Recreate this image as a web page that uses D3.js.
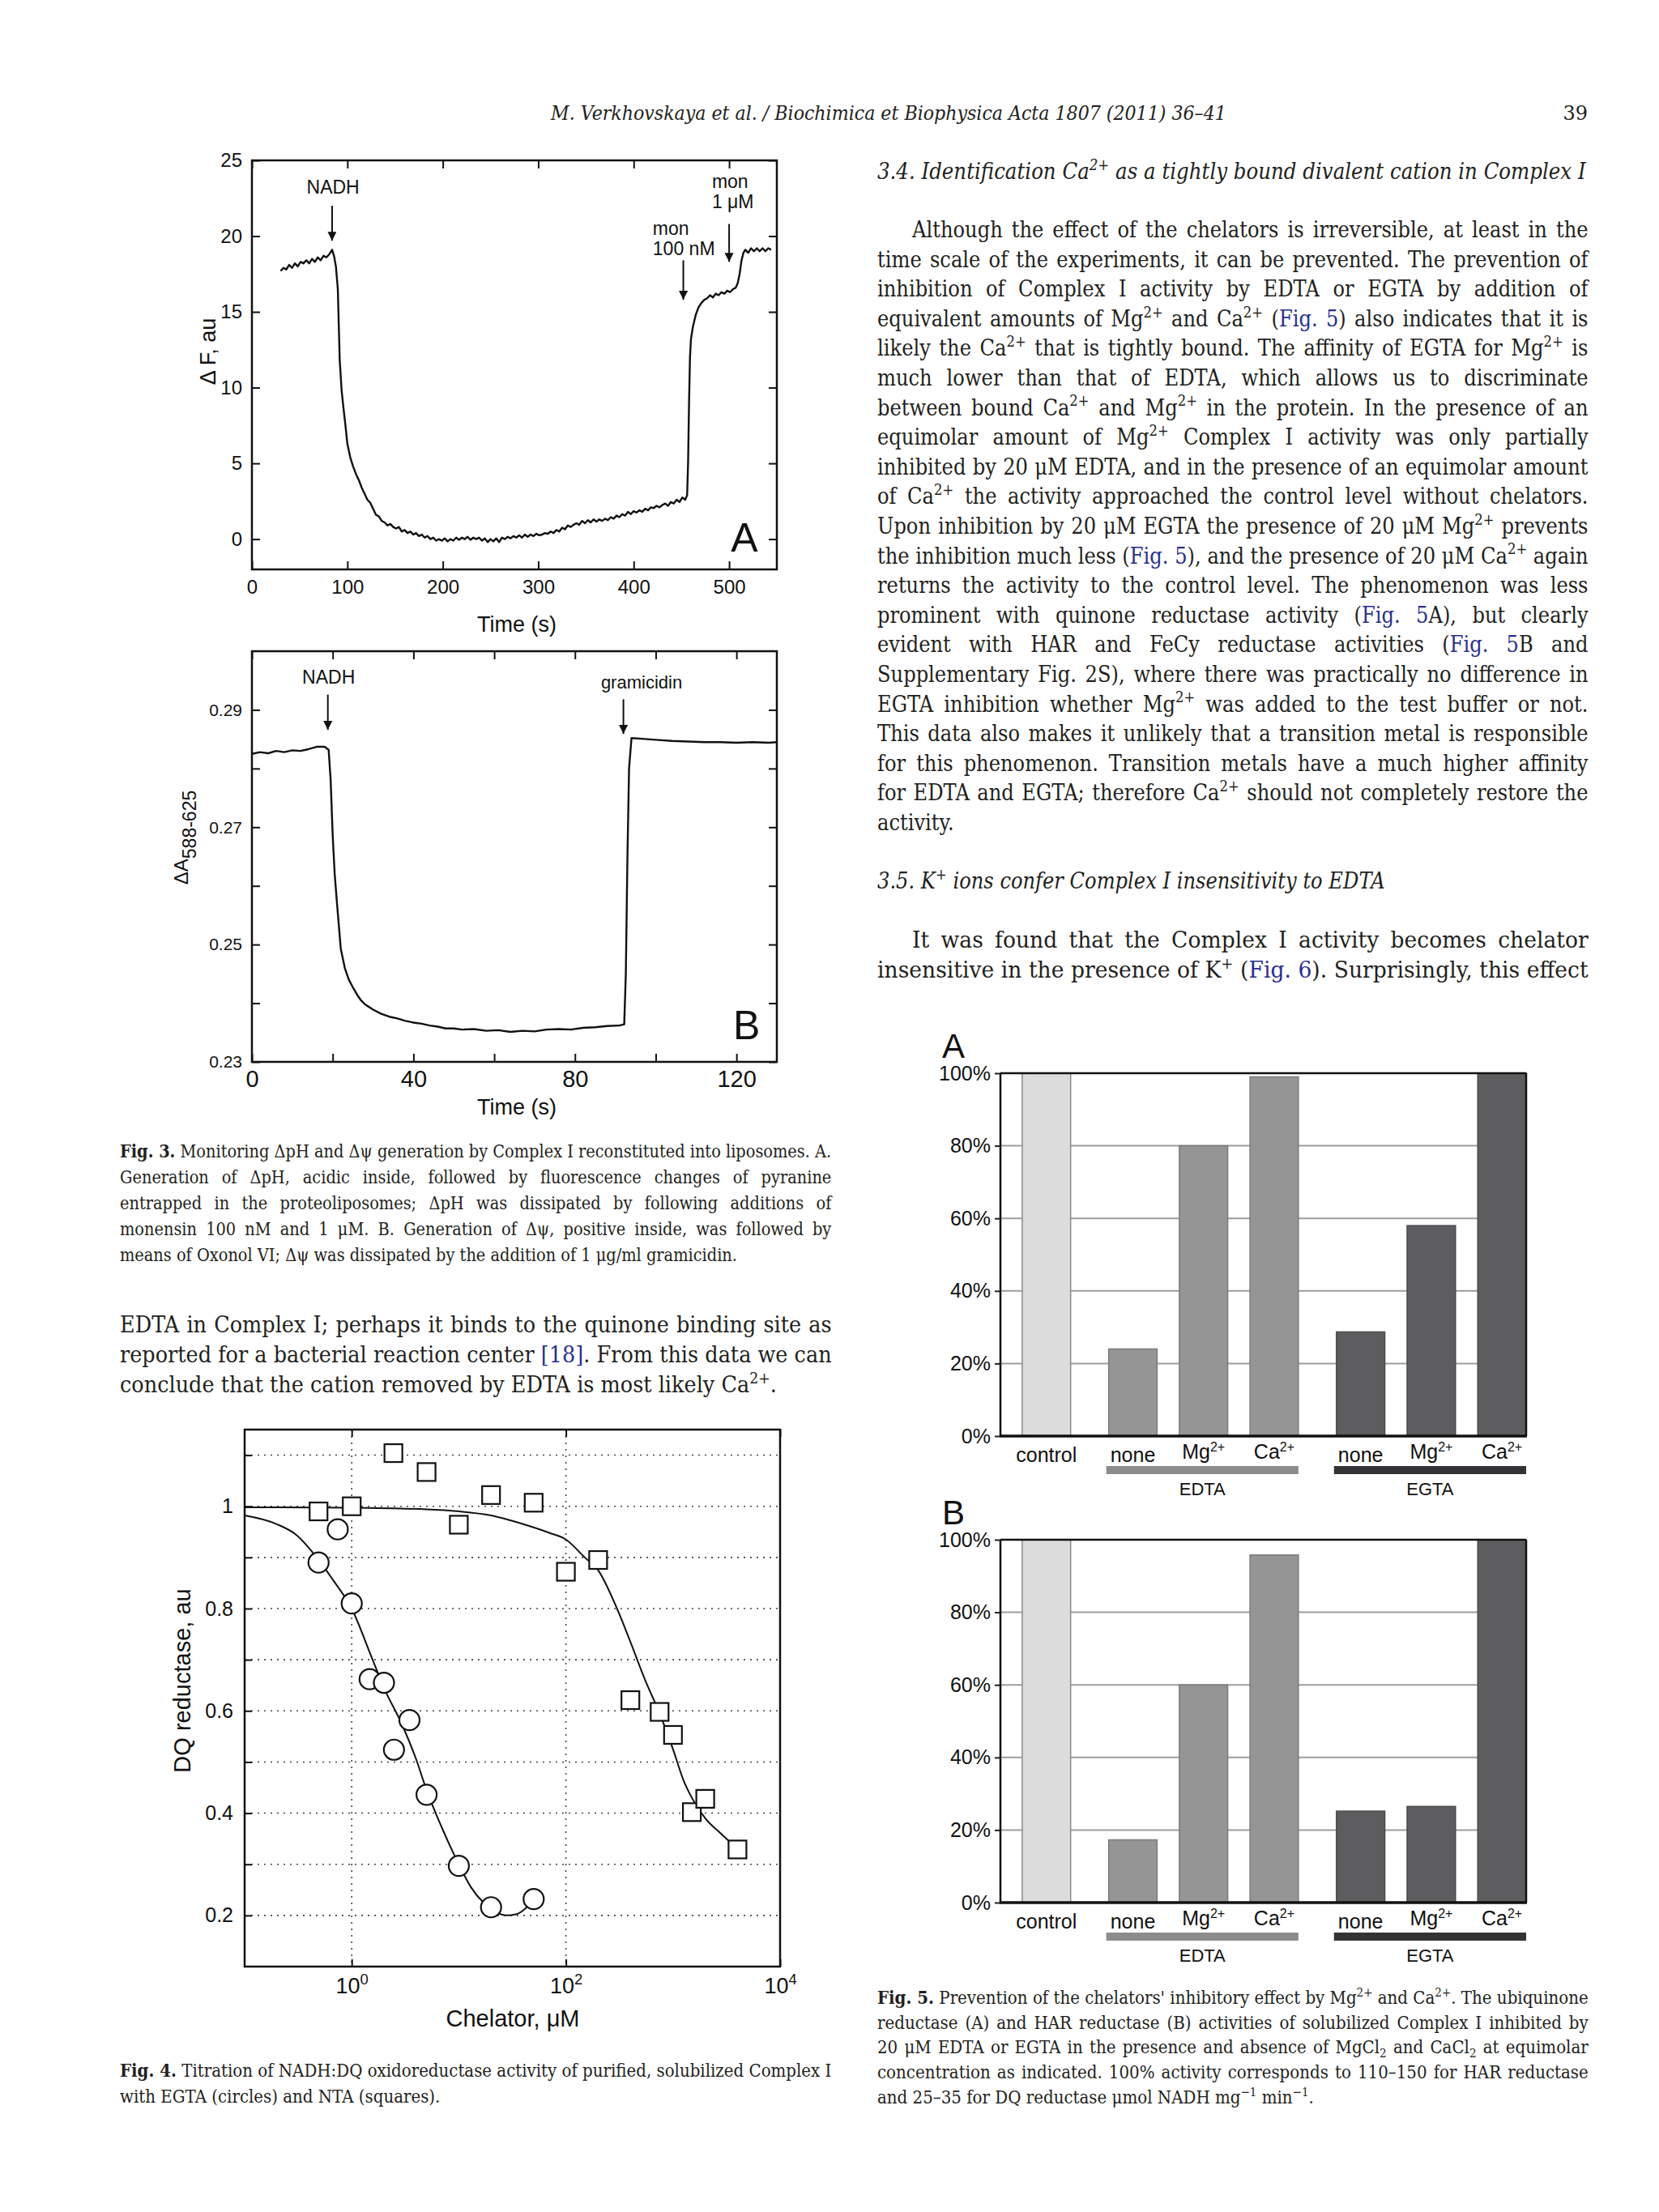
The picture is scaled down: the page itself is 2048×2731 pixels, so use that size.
<!DOCTYPE html>
<html>
<head>
<meta charset="utf-8">
<script src="https://cdn.jsdelivr.net/npm/d3@7"></script>
<style>
  body { margin: 0; background: #fff; }
  svg { display: block; }
</style>
</head>
<body>
<svg id="page" width="2048" height="2731"></svg>
<script>
// ---------- data ----------
// Fig 3A: pyranine fluorescence trace [time s, dF au]
const traceA = [
  [30,17.7],[33,17.9],[36,17.8],[39,18.1],[42,17.9],[45,18.2],[48,18.0],[51,18.3],[54,18.2],[57,18.4],
  [60,18.2],[63,18.5],[66,18.3],[69,18.6],[72,18.4],[75,18.7],[78,18.6],[81,18.8],[84,19.1],[86,18.7],
  [88,18.0],[90,16.5],[92,11.8],[94,9.8],[96,8.6],[98,7.5],[100,6.3],[103,5.4],[106,4.8],[109,4.3],
  [112,3.9],[115,3.4],[118,3.0],[121,2.6],[124,2.4],[127,2.0],[130,1.6],[133,1.5],[136,1.2],[139,1.1],
  [142,0.9],[145,1.0],[148,0.8],[151,0.7],[154,0.8],[157,0.5],[160,0.6],[163,0.4],[166,0.5],[169,0.3],
  [172,0.4],[175,0.2],[178,0.3],[181,0.1],[184,0.2],[187,0.0],[190,0.1],[193,-0.1],[196,0.0],[199,-0.1],
  [202,0.05],[205,-0.15],[208,0.0],[211,-0.1],[214,0.1],[217,-0.05],[220,0.1],[223,0.0],[226,0.15],[229,-0.05],
  [232,0.1],[235,0.0],[238,0.1],[241,-0.1],[244,0.05],[247,-0.2],[250,0.0],[253,-0.15],[256,0.05],[259,-0.2],
  [262,0.1],[265,0.0],[268,0.15],[271,0.05],[274,0.2],[277,0.1],[280,0.25],[283,0.1],[286,0.3],[289,0.15],
  [292,0.3],[295,0.2],[298,0.35],[301,0.25],[304,0.3],[307,0.4],[310,0.35],[313,0.5],[316,0.4],[319,0.6],
  [322,0.5],[325,0.75],[328,0.65],[331,0.9],[334,0.8],[337,0.95],[340,1.05],[343,0.95],[346,1.2],[349,1.05],
  [352,1.25],[355,1.1],[358,1.3],[361,1.15],[364,1.3],[367,1.2],[370,1.35],[373,1.25],[376,1.45],[379,1.35],
  [382,1.55],[385,1.45],[388,1.65],[391,1.55],[394,1.8],[397,1.65],[400,1.85],[403,1.75],[406,1.9],[409,1.8],
  [412,2.0],[415,1.9],[418,2.1],[421,2.05],[424,2.2],[427,2.1],[430,2.25],[433,2.35],[436,2.2],[439,2.45],
  [442,2.35],[445,2.6],[448,2.45],[451,2.75],[454,2.6],[456,2.9],[457,5.0],[458,9.0],[459,12.0],[460,13.2],
  [462,14.0],[465,14.8],[468,15.3],[471,15.6],[474,15.8],[477,15.9],[480,16.1],[483,15.95],[486,16.2],[489,16.1],
  [492,16.3],[495,16.2],[498,16.4],[501,16.3],[504,16.5],[507,16.6],[509,16.9],[511,17.5],[513,18.4],[515,18.9],
  [517,19.1],[520,18.9],[523,19.2],[526,19.0],[529,19.2],[532,19.0],[535,19.2],[538,19.0],[541,19.2],[544,19.1]
];
const timeTicksA = [0, 100, 200, 300, 400, 500];
const fluorTicks = [0, 5, 10, 15, 20, 25];

// Fig 3B: oxonol VI absorbance trace [time s, dA 588-625]
const traceB = [
  [0,0.2825],[2,0.2828],[4,0.2826],[6,0.2830],[8,0.2828],[10,0.2831],[12,0.2830],[14,0.2833],[16,0.2837],[18,0.2837],
  [19,0.2832],[19.5,0.2780],[20,0.2686],[20.5,0.2620],[21,0.2576],[22,0.2493],[23,0.2460],[24,0.2440],[25,0.2427],[26,0.2415],
  [27,0.2405],[28,0.2398],[30,0.2389],[32,0.2382],[34,0.2377],[36,0.2374],[38,0.2370],[40,0.2367],[42,0.2365],[44,0.2362],
  [46,0.2360],[48,0.2357],[50,0.2357],[52,0.2355],[55,0.2356],[58,0.2353],[61,0.2354],[64,0.2351],[67,0.2353],[70,0.2352],
  [73,0.2355],[76,0.2356],[79,0.2355],[82,0.2358],[85,0.2359],[88,0.2361],[91,0.2362],[92.2,0.2364],[92.6,0.2450],[93,0.2650],
  [93.4,0.2800],[94,0.2852],[96,0.2851],[100,0.2849],[104,0.2847],[108,0.2846],[112,0.2845],[116,0.2845],[120,0.2844],[124,0.2845],
  [128,0.2844],[130,0.2845]
];
const timeTicksB = [0, 20, 40, 60, 80, 100, 120];
const timeLabelsB = [0, 40, 80, 120];
const absTicks = [0.23, 0.24, 0.25, 0.26, 0.27, 0.28, 0.29];
const absLabels = [0.23, 0.25, 0.27, 0.29];

// Fig 4: DQ reductase titration [chelator uM, activity au]
const egtaPoints = [[0.49,0.89],[0.74,0.955],[1,0.81],[1.47,0.662],[2.0,0.655],[3.46,0.582],[2.48,0.524],[5,0.436],[10,0.297],[20,0.216],[50,0.232]];
const ntaPoints = [[0.49,0.99],[1,1.0],[2.45,1.104],[5,1.067],[10,0.964],[20,1.022],[50,1.007],[100,0.872],[200,0.895],[400,0.621],[750,0.598],[1000,0.553],[1500,0.402],[2000,0.428],[4000,0.329]];
const egtaFit = [[0.1,0.982],[0.2,0.965],[0.3,0.945],[0.5,0.893],[0.7,0.85],[1,0.80],[1.5,0.71],[2,0.645],[3,0.57],[4,0.505],[5,0.445],[7,0.37],[10,0.3],[13,0.255],[17,0.225],[22,0.207],[28,0.2],[34,0.202],[40,0.21],[50,0.232]];
const ntaFit = [[0.1,0.998],[1,0.997],[5,0.994],[10,0.99],[20,0.982],[40,0.965],[70,0.948],[100,0.935],[150,0.9],[200,0.875],[300,0.80],[400,0.735],[550,0.66],[750,0.595],[1000,0.525],[1250,0.465],[1500,0.43],[2000,0.39],[2800,0.36],[4000,0.33]];
const concTicks = [1, 100, 10000];
const dqTicks = [0.2, 0.3, 0.4, 0.5, 0.6, 0.7, 0.8, 0.9, 1, 1.1];
const dqLabels = [0.2, 0.4, 0.6, 0.8, 1];

// Fig 5: activity (% of control)
const conditions = ["control", "none", "Mg", "Ca", "none", "Mg", "Ca"];
const barGroup = ["control", "EDTA", "EDTA", "EDTA", "EGTA", "EGTA", "EGTA"];
const groupNames = ["control", "EDTA", "EGTA"];
const ubqReductase = [100, 24, 80, 99, 28.7, 58, 100];
const harReductase = [100, 17.3, 60, 95.8, 25.2, 26.5, 100];
const pctTicks = [0, 20, 40, 60, 80, 100];

// ---------- page text ----------
const header = "M. Verkhovskaya et al. / Biochimica et Biophysica Acta 1807 (2011) 36–41";
const pageNo = "39";
const sec34 = "3.4. Identification Ca^{2+} as a tightly bound divalent cation in Complex I";
const para34 = [
  "Although the effect of the chelators is irreversible, at least in the",
  "time scale of the experiments, it can be prevented. The prevention of",
  "inhibition of Complex I activity by EDTA or EGTA by addition of",
  "equivalent amounts of Mg^{2+} and Ca^{2+} (<<Fig. 5>>) also indicates that it is",
  "likely the Ca^{2+} that is tightly bound. The affinity of EGTA for Mg^{2+} is",
  "much lower than that of EDTA, which allows us to discriminate",
  "between bound Ca^{2+} and Mg^{2+} in the protein. In the presence of an",
  "equimolar amount of Mg^{2+} Complex I activity was only partially",
  "inhibited by 20 μM EDTA, and in the presence of an equimolar amount",
  "of Ca^{2+} the activity approached the control level without chelators.",
  "Upon inhibition by 20 μM EGTA the presence of 20 μM Mg^{2+} prevents",
  "the inhibition much less (<<Fig. 5>>), and the presence of 20 μM Ca^{2+} again",
  "returns the activity to the control level. The phenomenon was less",
  "prominent with quinone reductase activity (<<Fig. 5>>A), but clearly",
  "evident with HAR and FeCy reductase activities (<<Fig. 5>>B and",
  "Supplementary Fig. 2S), where there was practically no difference in",
  "EGTA inhibition whether Mg^{2+} was added to the test buffer or not.",
  "This data also makes it unlikely that a transition metal is responsible",
  "for this phenomenon. Transition metals have a much higher affinity",
  "for EDTA and EGTA; therefore Ca^{2+} should not completely restore the",
  "activity."
];
const sec35 = "3.5. K^{+} ions confer Complex I insensitivity to EDTA";
const para35 = [
  "It was found that the Complex I activity becomes chelator",
  "insensitive in the presence of K^{+} (<<Fig. 6>>). Surprisingly, this effect"
];
const leftPara = [
  "EDTA in Complex I; perhaps it binds to the quinone binding site as",
  "reported for a bacterial reaction center <<[18]>>. From this data we can",
  "conclude that the cation removed by EDTA is most likely Ca^{2+}."
];
const cap3 = [
  "**Fig. 3.** Monitoring ΔpH and Δψ generation by Complex I reconstituted into liposomes. A.",
  "Generation of ΔpH, acidic inside, followed by fluorescence changes of pyranine",
  "entrapped in the proteoliposomes; ΔpH was dissipated by following additions of",
  "monensin 100 nM and 1 μM. B. Generation of Δψ, positive inside, was followed by",
  "means of Oxonol VI; Δψ was dissipated by the addition of 1 μg/ml gramicidin."
];
const cap4 = [
  "**Fig. 4.** Titration of NADH:DQ oxidoreductase activity of purified, solubilized Complex I",
  "with EGTA (circles) and NTA (squares)."
];
const cap5 = [
  "**Fig. 5.** Prevention of the chelators' inhibitory effect by Mg^{2+} and Ca^{2+}. The ubiquinone",
  "reductase (A) and HAR reductase (B) activities of solubilized Complex I inhibited by",
  "20 μM EDTA or EGTA in the presence and absence of MgCl_{2} and CaCl_{2} at equimolar",
  "concentration as indicated. 100% activity corresponds to 110–150 for HAR reductase",
  "and 25–35 for DQ reductase μmol NADH mg^{−1} min^{−1}."
];

// ---------- helpers ----------
const svg = d3.select("#page");
const serif = "'DejaVu Serif', 'Liberation Serif', serif";
const sans = "'Liberation Sans', Arial, sans-serif";
const ink = "#231f20";
const linkBlue = "#2b2f8f";

svg.append("rect").attr("width", 2048).attr("height", 2731).attr("fill", "#fff");

svg.append("defs").append("marker")
  .attr("id", "arr")
  .attr("viewBox", "0 0 10 10")
  .attr("refX", 10).attr("refY", 5)
  .attr("markerWidth", 17).attr("markerHeight", 11)
  .attr("markerUnits", "userSpaceOnUse")
  .attr("orient", "auto")
  .append("path").attr("d", "M0,0 L10,5 L0,10 z").attr("fill", "#111");

const plain = s => s.replace(/\^\{([^}]*)\}|_\{([^}]*)\}|<<([^>]*)>>|\*\*([^*]*)\*\*/g, (m, a, b, c, d) => a || b || c || d || "");

function rich(t, str, fs) {
  const parts = str.split(/(\^\{[^}]*\}|_\{[^}]*\}|<<[^>]*>>|\*\*[^*]*\*\*)/).filter(s => s.length);
  let shift = 0;
  parts.forEach(p => {
    let txt = p, dy = 0, size = null, fill = null, weight = null;
    if (p.startsWith("^{")) { txt = p.slice(2, -1); dy = -0.4 * fs; size = 0.68 * fs; }
    else if (p.startsWith("_{")) { txt = p.slice(2, -1); dy = 0.22 * fs; size = 0.68 * fs; }
    else if (p.startsWith("<<")) { txt = p.slice(2, -2); fill = linkBlue; }
    else if (p.startsWith("**")) { txt = p.slice(2, -2); weight = "bold"; }
    t.append("tspan").text(txt)
      .attr("dy", (dy - shift) || null)
      .attr("font-size", size)
      .attr("fill", fill)
      .attr("font-weight", weight);
    shift = dy;
  });
}

// a block of lines: one horizontal squeeze for the block, words spread to justify
function block(parent, lines, o) {
  const items = lines.map((s, i) => {
    const t = parent.append("text")
      .attr("font-family", o.family || serif)
      .attr("font-size", o.fs)
      .attr("font-style", o.italic ? "italic" : null)
      .attr("fill", ink);
    rich(t, s, o.fs);
    return { s, t, i, nat: t.node().getComputedTextLength(), w: o.w(i), x: o.x(i), y: o.y(i) };
  });
  const sq = Math.min(o.maxSq || 0.95, d3.min(items.filter(d => d.w), d => d.w / d.nat));
  items.forEach(d => {
    d.t.attr("transform", `translate(${d.x},${d.y}) scale(${sq},1)`);
    if (!d.w) return;
    const spaces = (plain(d.s).match(/ /g) || []).length;
    const ws = spaces ? (d.w / sq - d.nat) / spaces : 0;
    if (ws < -1) d.t.attr("textLength", d.w / sq).attr("lengthAdjust", "spacingAndGlyphs");
    else d.t.style("word-spacing", ws + "px");
  });
}

function boxAxes(g, x, y, o) {
  const [x0, x1] = x.range(), [y1, y0] = y.range();
  const fx = o.fmtX || (d => d), fy = o.fmtY || (d => d);
  const style = s => {
    s.select(".domain").remove();
    s.attr("font-family", sans).attr("font-size", null);
    s.selectAll(".tick line").attr("stroke", "#111").attr("stroke-width", 2);
    s.selectAll(".tick text").attr("fill", "#111");
  };
  g.append("g").attr("transform", `translate(0,${y1})`)
    .call(d3.axisBottom(x).tickValues(o.xTicks).tickFormat(d => o.xLabels.includes(d) ? fx(d) : "")
      .tickSizeInner(-o.tick).tickSizeOuter(0).tickPadding(o.xpad))
    .call(style).attr("class", "xax").selectAll("text").attr("font-size", o.xfs);
  g.append("g").attr("transform", `translate(0,${y0})`)
    .call(d3.axisTop(x).tickValues(o.xTicks).tickFormat("").tickSizeInner(-o.tick).tickSizeOuter(0))
    .call(style);
  g.append("g").attr("transform", `translate(${x0},0)`)
    .call(d3.axisLeft(y).tickValues(o.yTicks).tickFormat(d => o.yLabels.includes(d) ? fy(d) : "")
      .tickSizeInner(-o.tick).tickSizeOuter(0).tickPadding(o.ypad))
    .call(style).selectAll("text").attr("font-size", o.yfs);
  if (o.right !== false) {
    g.append("g").attr("transform", `translate(${x1},0)`)
      .call(d3.axisRight(y).tickValues(o.yTicks).tickFormat("").tickSizeInner(-o.tick).tickSizeOuter(0))
      .call(style);
  }
  g.append("rect").attr("x", x0).attr("y", y0).attr("width", x1 - x0).attr("height", y1 - y0)
    .attr("fill", "none").attr("stroke", "#111").attr("stroke-width", 2.5);
}

function note(g, x, y, lines, fs, anchor) {
  lines.forEach((s, i) => {
    g.append("text").attr("x", x).attr("y", y + i * fs * 1.1)
      .attr("font-family", sans).attr("font-size", fs).attr("text-anchor", anchor || "middle")
      .attr("fill", "#111").text(s);
  });
}
function arrow(g, x, ya, yb) {
  g.append("line").attr("x1", x).attr("x2", x).attr("y1", ya).attr("y2", yb)
    .attr("stroke", "#111").attr("stroke-width", 2).attr("marker-end", "url(#arr)");
}
function label(g, x, y, txt, fs, rot) {
  return g.append("text")
    .attr("transform", rot ? `translate(${x},${y}) rotate(-90)` : null)
    .attr("x", rot ? null : x).attr("y", rot ? null : y)
    .attr("text-anchor", "middle").attr("font-family", sans).attr("font-size", fs)
    .attr("fill", "#111").text(txt);
}

// ---------- running head ----------
block(svg, [header], { fs: 24, italic: true, x: () => 680, y: () => 148, w: () => 834, maxSq: 1 });
svg.append("text").attr("x", 1960).attr("y", 148).attr("text-anchor", "end")
  .attr("font-family", serif).attr("font-size", 24).attr("fill", ink).text(pageNo);

// ---------- Fig 3A ----------
const g3a = svg.append("g");
const xA = d3.scaleLinear().domain([0, 550]).range([311, 959]);
const yA = d3.scaleLinear().domain([-2, 25]).range([703, 198]);
boxAxes(g3a, xA, yA, { xTicks: timeTicksA, xLabels: timeTicksA, yTicks: fluorTicks, yLabels: fluorTicks,
  tick: 10, xpad: 13, ypad: 12, xfs: 24, yfs: 24 });
g3a.append("path").datum(traceA)
  .attr("d", d3.line().x(d => xA(d[0])).y(d => yA(d[1])))
  .attr("fill", "none").attr("stroke", "#111").attr("stroke-width", 2.4).attr("stroke-linejoin", "round");
note(g3a, xA(85), yA(22.8), ["NADH"], 23);
arrow(g3a, xA(84), yA(22.0), yA(19.7));
note(g3a, xA(420), yA(20.1), ["mon", "100 nM"], 23, "start");
arrow(g3a, xA(452), yA(18.4), yA(15.8));
note(g3a, xA(482), yA(23.2), ["mon", "1 μM"], 23, "start");
arrow(g3a, xA(500), yA(20.8), yA(18.3));
label(g3a, xA(516), yA(-0.8), "A", 50);
label(g3a, 638, 780, "Time (s)", 27);
label(g3a, 266, 434, "Δ F, au", 27, true);

// ---------- Fig 3B ----------
const g3b = svg.append("g");
const xB = d3.scaleLinear().domain([0, 130]).range([311, 959]);
const yB = d3.scaleLinear().domain([0.23, 0.30]).range([1311, 804]);
boxAxes(g3b, xB, yB, { xTicks: timeTicksB, xLabels: timeLabelsB, yTicks: absTicks, yLabels: absLabels,
  tick: 10, xpad: 10, ypad: 12, xfs: 29, yfs: 21 });
g3b.append("path").datum(traceB)
  .attr("d", d3.line().x(d => xB(d[0])).y(d => yB(d[1])))
  .attr("fill", "none").attr("stroke", "#111").attr("stroke-width", 2.4).attr("stroke-linejoin", "round");
note(g3b, xB(19), yB(0.2945), ["NADH"], 23);
arrow(g3b, xB(18.8), yB(0.2926), yB(0.2866));
note(g3b, xB(96.5), yB(0.2937), ["gramicidin"], 22);
arrow(g3b, xB(92), yB(0.2918), yB(0.2859));
label(g3b, xB(122.5), yB(0.2338), "B", 50);
label(g3b, 638, 1376, "Time (s)", 27);
const yl3b = label(g3b, 232, 1034, "", 24, true);
yl3b.append("tspan").text("ΔA");
yl3b.append("tspan").attr("dy", 10).attr("font-size", 23).text("588-625");

// ---------- Fig 3 caption + left text ----------
block(svg, cap3, { fs: 23, x: () => 148, y: i => 1429 + i * 32, w: i => i === 4 ? null : 879 });
block(svg, leftPara, { fs: 28, x: () => 148, y: i => 1645 + i * 37, w: i => i === 2 ? null : 879 });

// ---------- Fig 4 ----------
const g4 = svg.append("g");
const x4 = d3.scaleLog().domain([0.1, 10000]).range([302, 963]);
const y4 = d3.scaleLinear().domain([0.1, 1.15]).range([2428, 1765]);
g4.selectAll(".hgrid").data(dqTicks).enter().append("line").attr("class", "hgrid")
  .attr("x1", 302).attr("x2", 963).attr("y1", d => y4(d)).attr("y2", d => y4(d))
  .attr("stroke", "#444").attr("stroke-width", 1.6).attr("stroke-dasharray", "2,6");
g4.selectAll(".vgrid").data([1, 100]).enter().append("line").attr("class", "vgrid")
  .attr("x1", d => x4(d)).attr("x2", d => x4(d)).attr("y1", 1765).attr("y2", 2428)
  .attr("stroke", "#444").attr("stroke-width", 1.6).attr("stroke-dasharray", "2,6");
boxAxes(g4, x4, y4, { xTicks: concTicks, xLabels: concTicks, yTicks: dqTicks, yLabels: dqLabels,
  fmtX: d => "10", fmtY: d => d === 1 ? "1" : String(d),
  tick: 9, xpad: 14, ypad: 14, xfs: 27, yfs: 25, right: false });
g4.select(".xax").selectAll(".tick text").each(function (d) {
  d3.select(this).append("tspan").attr("dy", "-0.6em").attr("font-size", "0.68em").text(Math.round(Math.log10(d)));
});
const fitLineGen = d3.line().x(d => x4(d[0])).y(d => y4(d[1])).curve(d3.curveMonotoneX);
[egtaFit, ntaFit].forEach(f => g4.append("path").datum(f).attr("d", fitLineGen)
  .attr("fill", "none").attr("stroke", "#111").attr("stroke-width", 2));
g4.selectAll(".egta").data(egtaPoints).enter().append("circle").attr("class", "egta")
  .attr("cx", d => x4(d[0])).attr("cy", d => y4(d[1])).attr("r", 12.5)
  .attr("fill", "#fff").attr("stroke", "#111").attr("stroke-width", 2.2);
g4.selectAll(".nta").data(ntaPoints).enter().append("rect").attr("class", "nta")
  .attr("x", d => x4(d[0]) - 11).attr("y", d => y4(d[1]) - 11).attr("width", 22).attr("height", 22)
  .attr("fill", "#fff").attr("stroke", "#111").attr("stroke-width", 2.2);
label(g4, 633, 2502, "Chelator, μM", 29);
label(g4, 235, 2075, "DQ reductase, au", 29, true);
block(svg, cap4, { fs: 23, x: () => 148, y: i => 2564 + i * 32, w: i => i === 1 ? null : 879 });

// ---------- right column text ----------
block(svg, [sec34], { fs: 28, italic: true, x: () => 1083, y: () => 221, w: () => 875, maxSq: 1 });
block(svg, para34, { fs: 28, x: i => i === 0 ? 1126 : 1083, y: i => 293 + i * 36.6,
  w: i => i === 20 ? null : (i === 0 ? 835 : 878) });
block(svg, [sec35], { fs: 28, italic: true, x: () => 1083, y: () => 1097, w: () => 627, maxSq: 1 });
block(svg, para35, { fs: 28, x: i => i === 0 ? 1126 : 1083, y: i => 1170 + i * 37,
  w: i => i === 0 ? 835 : 878 });

// ---------- Fig 5 ----------
const fills = { control: "#dcdcdd", EDTA: "#959596", EGTA: "#5d5d5f" };
const edges = { control: "#8a8a8a", EDTA: "#7c7c7c", EGTA: "#4a4a4c" };
const groupBar = { EDTA: "#8c8c8c", EGTA: "#333335" };

function barPanel(top, values, letter) {
  const L = 1235, R = 1884, T = top, B = top + 448, W = R - L, gap = 0.03 * W;
  const g = svg.append("g");
  const y = d3.scaleLinear().domain([0, 100]).range([B, T]);
  const x = d3.scaleBand().domain(d3.range(conditions.length))
    .range([L + 0.0415 * W, R - 2 * gap]).paddingInner(0.315).paddingOuter(0);
  const gi = i => groupNames.indexOf(barGroup[i]);
  const bx = i => x(i) + gi(i) * gap;

  g.selectAll(".grid").data(pctTicks.filter(d => d > 0 && d < 100)).enter().append("line")
    .attr("x1", L).attr("x2", R).attr("y1", d => y(d)).attr("y2", d => y(d))
    .attr("stroke", "#9d9d9d").attr("stroke-width", 2);
  g.selectAll(".bar").data(values).enter().append("rect")
    .attr("x", (d, i) => bx(i)).attr("width", x.bandwidth())
    .attr("y", d => y(d)).attr("height", d => B - y(d))
    .attr("fill", (d, i) => fills[barGroup[i]]).attr("stroke", (d, i) => edges[barGroup[i]]).attr("stroke-width", 1.5);

  const ax = g.append("g").attr("transform", `translate(${L},0)`)
    .call(d3.axisLeft(y).tickValues(pctTicks).tickFormat(d => d + "%").tickSizeInner(7).tickSizeOuter(0).tickPadding(5));
  ax.select(".domain").remove();
  ax.attr("font-family", sans).attr("font-size", null);
  ax.selectAll(".tick line").attr("stroke", "#222").attr("stroke-width", 2);
  ax.selectAll(".tick text").attr("font-size", 25).attr("fill", "#111");

  g.append("line").attr("x1", L).attr("x2", R).attr("y1", T).attr("y2", T).attr("stroke", "#111").attr("stroke-width", 2.5);
  g.append("line").attr("x1", R).attr("x2", R).attr("y1", T).attr("y2", B).attr("stroke", "#111").attr("stroke-width", 2.5);
  g.append("line").attr("x1", L).attr("x2", L).attr("y1", T).attr("y2", B).attr("stroke", "#111").attr("stroke-width", 2.5);
  g.append("line").attr("x1", L - 1).attr("x2", R + 1).attr("y1", B).attr("y2", B).attr("stroke", "#111").attr("stroke-width", 3.5);

  conditions.forEach((c, i) => {
    const t = g.append("text").attr("x", bx(i) + x.bandwidth() / 2).attr("y", B + 32)
      .attr("text-anchor", "middle").attr("font-family", sans).attr("font-size", 25).attr("fill", "#111");
    if (c === "Mg" || c === "Ca") {
      t.attr("y", B + 28);
      t.append("tspan").text(c);
      t.append("tspan").attr("dy", -9).attr("font-size", 16).text("2+");
    } else t.text(c);
  });

  ["EDTA", "EGTA"].forEach(gn => {
    const idx = d3.range(conditions.length).filter(i => barGroup[i] === gn);
    const a = bx(idx[0]) - 3, b = bx(idx[idx.length - 1]) + x.bandwidth();
    g.append("rect").attr("x", a).attr("y", B + 37).attr("width", b - a).attr("height", 10).attr("fill", groupBar[gn]);
    label(g, (a + b) / 2, B + 73, gn, 22);
  });

  label(g, 1177, T - 19, letter, 42);
}
barPanel(1325, ubqReductase, "A");
barPanel(1901, harReductase, "B");

block(svg, cap5, { fs: 23, x: () => 1083, y: i => 2474 + i * 30.7, w: i => i === 4 ? null : 878 });
</script>
</body>
</html>
